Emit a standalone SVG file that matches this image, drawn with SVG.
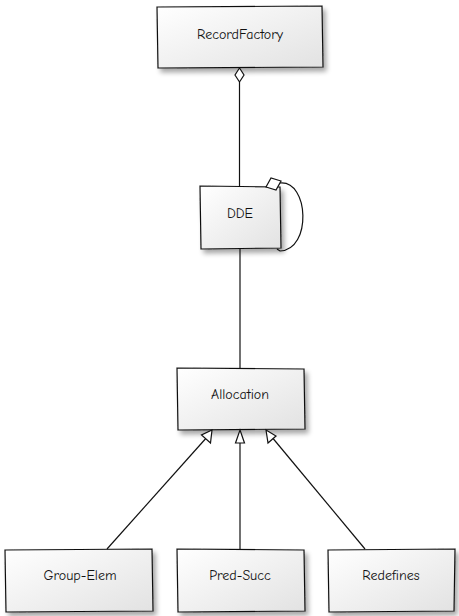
<svg xmlns="http://www.w3.org/2000/svg" width="459" height="616" viewBox="0 0 459 616">
<style>
.box{fill:url(#g);stroke:#111;stroke-width:1.2;filter:url(#sh)}
.lbl{font-family:"Comic Neue","Liberation Sans",sans-serif;font-size:14px;fill:#111;text-anchor:middle;dominant-baseline:middle}
.ln{fill:none;stroke:#111;stroke-width:1.2}
.hd{fill:#fff;stroke:#111;stroke-width:1.2}
</style>
<defs>
<linearGradient id="g" x1="0" y1="0" x2="1" y2="1">
<stop offset="0" stop-color="#ffffff"/>
<stop offset="1" stop-color="#e2e2e2"/>
</linearGradient>
<filter id="sh" x="-20%" y="-20%" width="150%" height="150%">
<feGaussianBlur in="SourceAlpha" stdDeviation="2.5"/>
<feOffset dx="3" dy="4" result="b"/>
<feComponentTransfer><feFuncA type="linear" slope="0.35"/></feComponentTransfer>
<feMerge><feMergeNode/><feMergeNode in="SourceGraphic"/></feMerge>
</filter>
</defs>
<g id="RecordFactory">
<polygon class="box" points="157,7 322,6 323,67 158,68"/>
<text class="lbl" x="240" y="36">RecordFactory</text>
</g>
<g id="DDE">
<polygon class="box" points="200,186 280,187 281,248 201,249"/>
<text class="lbl" x="240" y="215">DDE</text>
</g>
<g id="Allocation">
<polygon class="box" points="177,368 304,369 305,429 178,430"/>
<text class="lbl" x="240" y="396">Allocation</text>
</g>
<g id="Group-Elem">
<polygon class="box" points="5,550 152,549 153,611 6,612"/>
<text class="lbl" x="80" y="577">Group-Elem</text>
</g>
<g id="Pred-Succ">
<polygon class="box" points="177,549 304,550 305,611 178,612"/>
<text class="lbl" x="240" y="577">Pred-Succ</text>
</g>
<g id="Redefines">
<polygon class="box" points="328,550 455,549 454,611 329,612"/>
<text class="lbl" x="391" y="577">Redefines</text>
</g>
<g id="connectors">
<path class="ln" d="M239.5 82 L239.5 186"/>
<polygon class="hd" points="239.5,68 244,75 239.5,82 235,75"/>
<path class="ln" d="M280 183 C 309 180, 312 250, 280 251 L277 249"/>
<polygon class="hd" points="266,187 271,178 281,181 276,190"/>
<path class="ln" d="M240 249 L240 368"/>
<path class="ln" d="M107 549 L208 436"/>
<polygon class="hd" points="212,430 210.5,443 201.5,435"/>
<path class="ln" d="M240 549 L240 443"/>
<polygon class="hd" points="240,430 244.5,443 235.5,443"/>
<path class="ln" d="M365 549 L271 436"/>
<polygon class="hd" points="266,430 276,436 268,443"/>
</g>
</svg>
